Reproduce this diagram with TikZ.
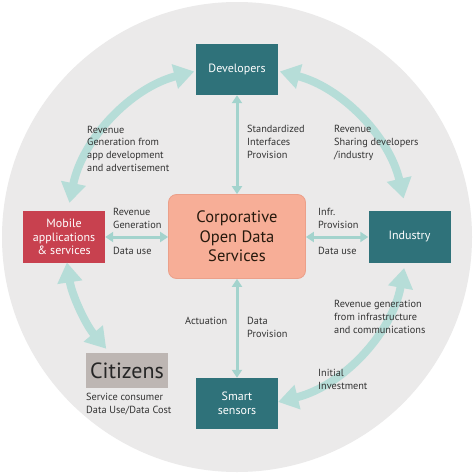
\documentclass[tikz,border=0pt]{standalone}
\usepackage{fontspec}
\setmainfont{PT Sans}
\usetikzlibrary{arrows.meta}
\definecolor{teal1}{HTML}{2F727A}
\definecolor{redbox}{HTML}{C8414F}
\definecolor{salmon}{HTML}{F7AE97}
\definecolor{salmonedge}{HTML}{EBA08A}
\definecolor{citgray}{HTML}{BDB6B3}
\definecolor{circfill}{HTML}{EBEAEA}
\definecolor{arcarrow}{HTML}{B6DDD8}
\definecolor{thinarrow}{HTML}{A3D3CD}
\definecolor{labeltext}{HTML}{333333}
\tikzset{
  box/.style={draw=none, fill=teal1, text=white, minimum width=82pt, minimum height=51pt, align=center, inner sep=0pt, font=\fontsize{12}{14}\selectfont},
  lbl/.style={anchor=base west, align=left, inner sep=0pt, text=labeltext, font=\fontsize{10.3}{12.6}\selectfont},
  bigarrow/.style={draw=arcarrow, line width=8pt, {Triangle[width=24pt,length=20pt]}-{Triangle[width=24pt,length=20pt]}},
  smallarrow/.style={draw=thinarrow, line width=3pt, {Triangle[width=10pt,length=8pt]}-{Triangle[width=10pt,length=8pt]}}
}
\begin{document}
\begin{tikzpicture}[x=1pt,y=-1pt]
\useasboundingbox (0,0) rectangle (474,474);
\fill[white] (0,0) rectangle (474,474);
\node[circle, fill=circfill, minimum size=470pt, inner sep=0pt] (bg) at (237,237) {};
% boxes
\node[box] (dev) at (237,69.5) {Developers};
\node[box, minimum height=52pt] (ind) at (409.5,237) {Industry};
\node[box] (sens) at (237,403.5) {Smart\\sensors};
\node[box, fill=redbox, minimum height=52pt, font=\fontsize{12}{13.5}\selectfont] (mob) at (64,237) {Mobile\\applications\\\& services};
\node[box, fill=citgray, text=black!85, minimum height=35pt, font=\fontsize{22}{24}\selectfont] (cit) at (127,370.5) {Citizens};
\node[draw=salmonedge, line width=0.8pt, fill=salmon, rounded corners=8pt, minimum width=137pt, minimum height=84pt, align=center, inner sep=0pt, text=black!80!brown, font=\fontsize{16.5}{19.5}\selectfont] (corp) at (237,236.5) {Corporative\\Open Data\\Services};
% arc end coordinates
\coordinate (c) at (237,237);
\coordinate (a1) at ([shift={(-104.5:171)}]c);
\coordinate (a2) at ([shift={(-75.5:171)}]c);
\coordinate (a3) at ([shift={(10.5:170)}]c);
\coordinate (a4) at ([shift={(-188.5:172)}]c);
% curved arrows
\draw[bigarrow] (a1) arc[start angle=-104.5, end angle=-168.5, radius=171];
\draw[bigarrow] (a2) arc[start angle=-75.5, end angle=-13, radius=171];
\draw[bigarrow] (a3) arc[start angle=10.5, end angle=76, radius=170];
\draw[bigarrow] (a4) arc[start angle=-188.5, end angle=-220.5, radius=172];
% straight arrows
\draw[smallarrow] (dev.south) -- (corp.north);
\draw[smallarrow] (corp.south) -- (sens.north);
\draw[smallarrow] (mob.east) -- (mob.east -| corp.west);
\draw[smallarrow] (ind.west -| corp.east) -- (ind.west);
% labels (anchored at the baseline of the last line)
\node[lbl] (l1) at (87,171) {Revenue\\Generation from\\app development\\and advertisement};
\node[lbl] (l2) at (247,158) {Standardized\\Interfaces\\Provision};
\node[lbl] (l3) at (334,158) {Revenue\\Sharing developers\\/industry};
\node[lbl] (l4) at (113,228) {Revenue\\Generation};
\node[lbl] (l5) at (113,254) {Data use};
\node[lbl] (l6) at (318,228) {Infr.\\Provision};
\node[lbl] (l7) at (318,254) {Data use};
\node[lbl] (l8) at (185,324) {Actuation};
\node[lbl] (l9) at (247,337) {Data\\Provision};
\node[lbl] (l10) at (334,333) {Revenue generation\\from infrastructure\\and communications};
\node[lbl] (l11) at (318,389) {Initial\\Investment};
\node[lbl] (l12) at (86,413) {Service consumer\\Data Use/Data Cost};
\end{tikzpicture}
\end{document}
